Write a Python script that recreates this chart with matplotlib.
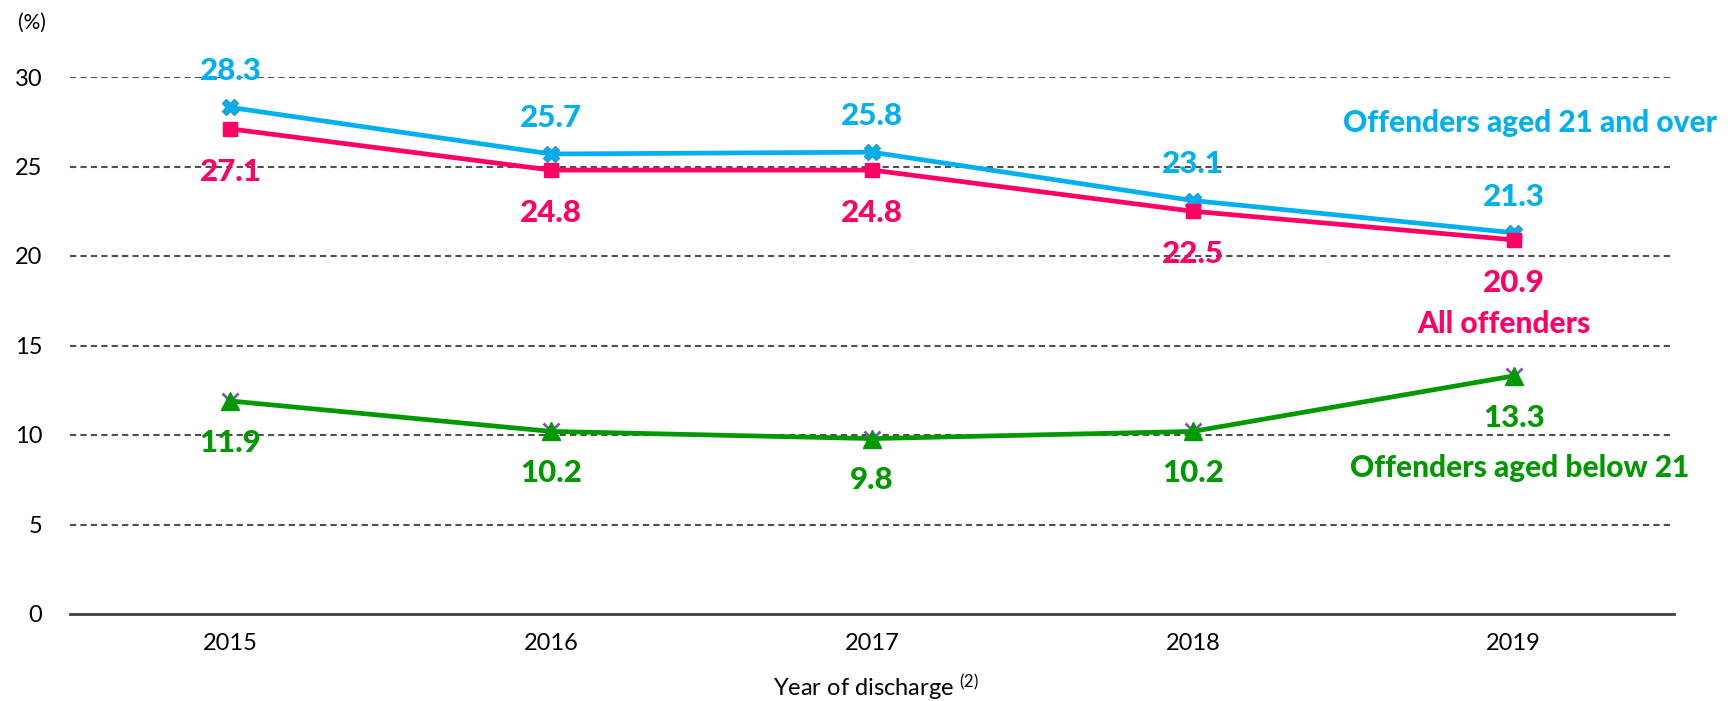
import matplotlib
matplotlib.use("Agg")
import matplotlib.pyplot as plt
import numpy as np

plt.rcParams['font.family'] = ['Lato', 'DejaVu Sans']
plt.rcParams['mathtext.fontset'] = 'custom'
plt.rcParams['mathtext.rm'] = 'Lato'
plt.rcParams['mathtext.it'] = 'Lato'

years = ["2015", "2016", "2017", "2018", "2019"]
over21 = [28.3, 25.7, 25.8, 23.1, 21.3]
all_off = [27.1, 24.8, 24.8, 22.5, 20.9]
below21 = [11.9, 10.2, 9.8, 10.2, 13.3]
yticks = [0, 5, 10, 15, 20, 25, 30]

BLUE = "#00B0F0"
PINK = "#FF0066"
GREEN = "#009900"

fig = plt.figure(figsize=(17.34, 7.01), dpi=100)
ax = fig.add_axes([70/1734, 1-614/701, (1674-70)/1734, (614-77)/701])
x = np.arange(len(years))

ax.set_xlim(-0.5, len(years) - 0.5)
ax.set_ylim(0, 30)
ax.set_yticks(yticks)
ax.set_yticklabels([str(t) for t in yticks], fontsize=17)
ax.set_xticks(x)
ax.set_xticklabels(years, fontsize=17)
ax.tick_params(length=0, pad=14)
ax.tick_params(axis='y', pad=20)
for t in yticks[1:]:
    ax.axhline(t, color="#505050", lw=1.5, ls=(0, (3, 2)), zorder=1)
for s in ["top", "right", "left"]:
    ax.spines[s].set_visible(False)
ax.spines["bottom"].set_color("#404040")
ax.spines["bottom"].set_linewidth(2)

ax.plot(x, over21, color=BLUE, lw=3.4, marker="X", ms=11, mfc=BLUE, mec="#2E9BC4", zorder=3)
ax.plot(x, all_off, color=PINK, lw=3.4, marker="s", ms=10, mfc=PINK, mec=PINK, zorder=4)
ax.plot(x, below21, color=GREEN, lw=3.4, marker="x", ms=11, mec="#7A5CA8", mew=2, zorder=3)
ax.plot(x, below21, color=GREEN, lw=0, marker="^", ms=13, mfc=GREEN, mec=GREEN, zorder=4)

LBL = 22.5
for xi, v in zip(x, over21):
    ax.annotate(f"{v:.1f}", (xi, v), xytext=(0, 26), textcoords="offset points",
                ha="center", va="center", color=BLUE, fontsize=LBL, fontweight="black")
for xi, v in zip(x, all_off):
    ax.annotate(f"{v:.1f}", (xi, v), xytext=(0, -31), textcoords="offset points",
                ha="center", va="center", color=PINK, fontsize=LBL, fontweight="black")
for xi, v in zip(x, below21):
    ax.annotate(f"{v:.1f}", (xi, v), xytext=(0, -30), textcoords="offset points",
                ha="center", va="center", color=GREEN, fontsize=LBL, fontweight="black")

SER = 21.5
fig.text(1717/1734, 1-123/701, "Offenders aged 21 and over", ha="right", va="center",
         color=BLUE, fontsize=SER, fontweight="black")
fig.text(1504/1734, 1-324/701, "All offenders", ha="center", va="center",
         color=PINK, fontsize=SER, fontweight="black")
fig.text(1689/1734, 1-468/701, "Offenders aged below 21", ha="right", va="center",
         color=GREEN, fontsize=SER, fontweight="black")

fig.text(32/1734, 1-23/701, "(%)", ha="center", va="center", fontsize=15)
fig.text(876/1734, 1-688/701, "Year of discharge $^{(2)}$", ha="center", va="center", fontsize=17)

fig.savefig("out.png", dpi=100, facecolor="white")
